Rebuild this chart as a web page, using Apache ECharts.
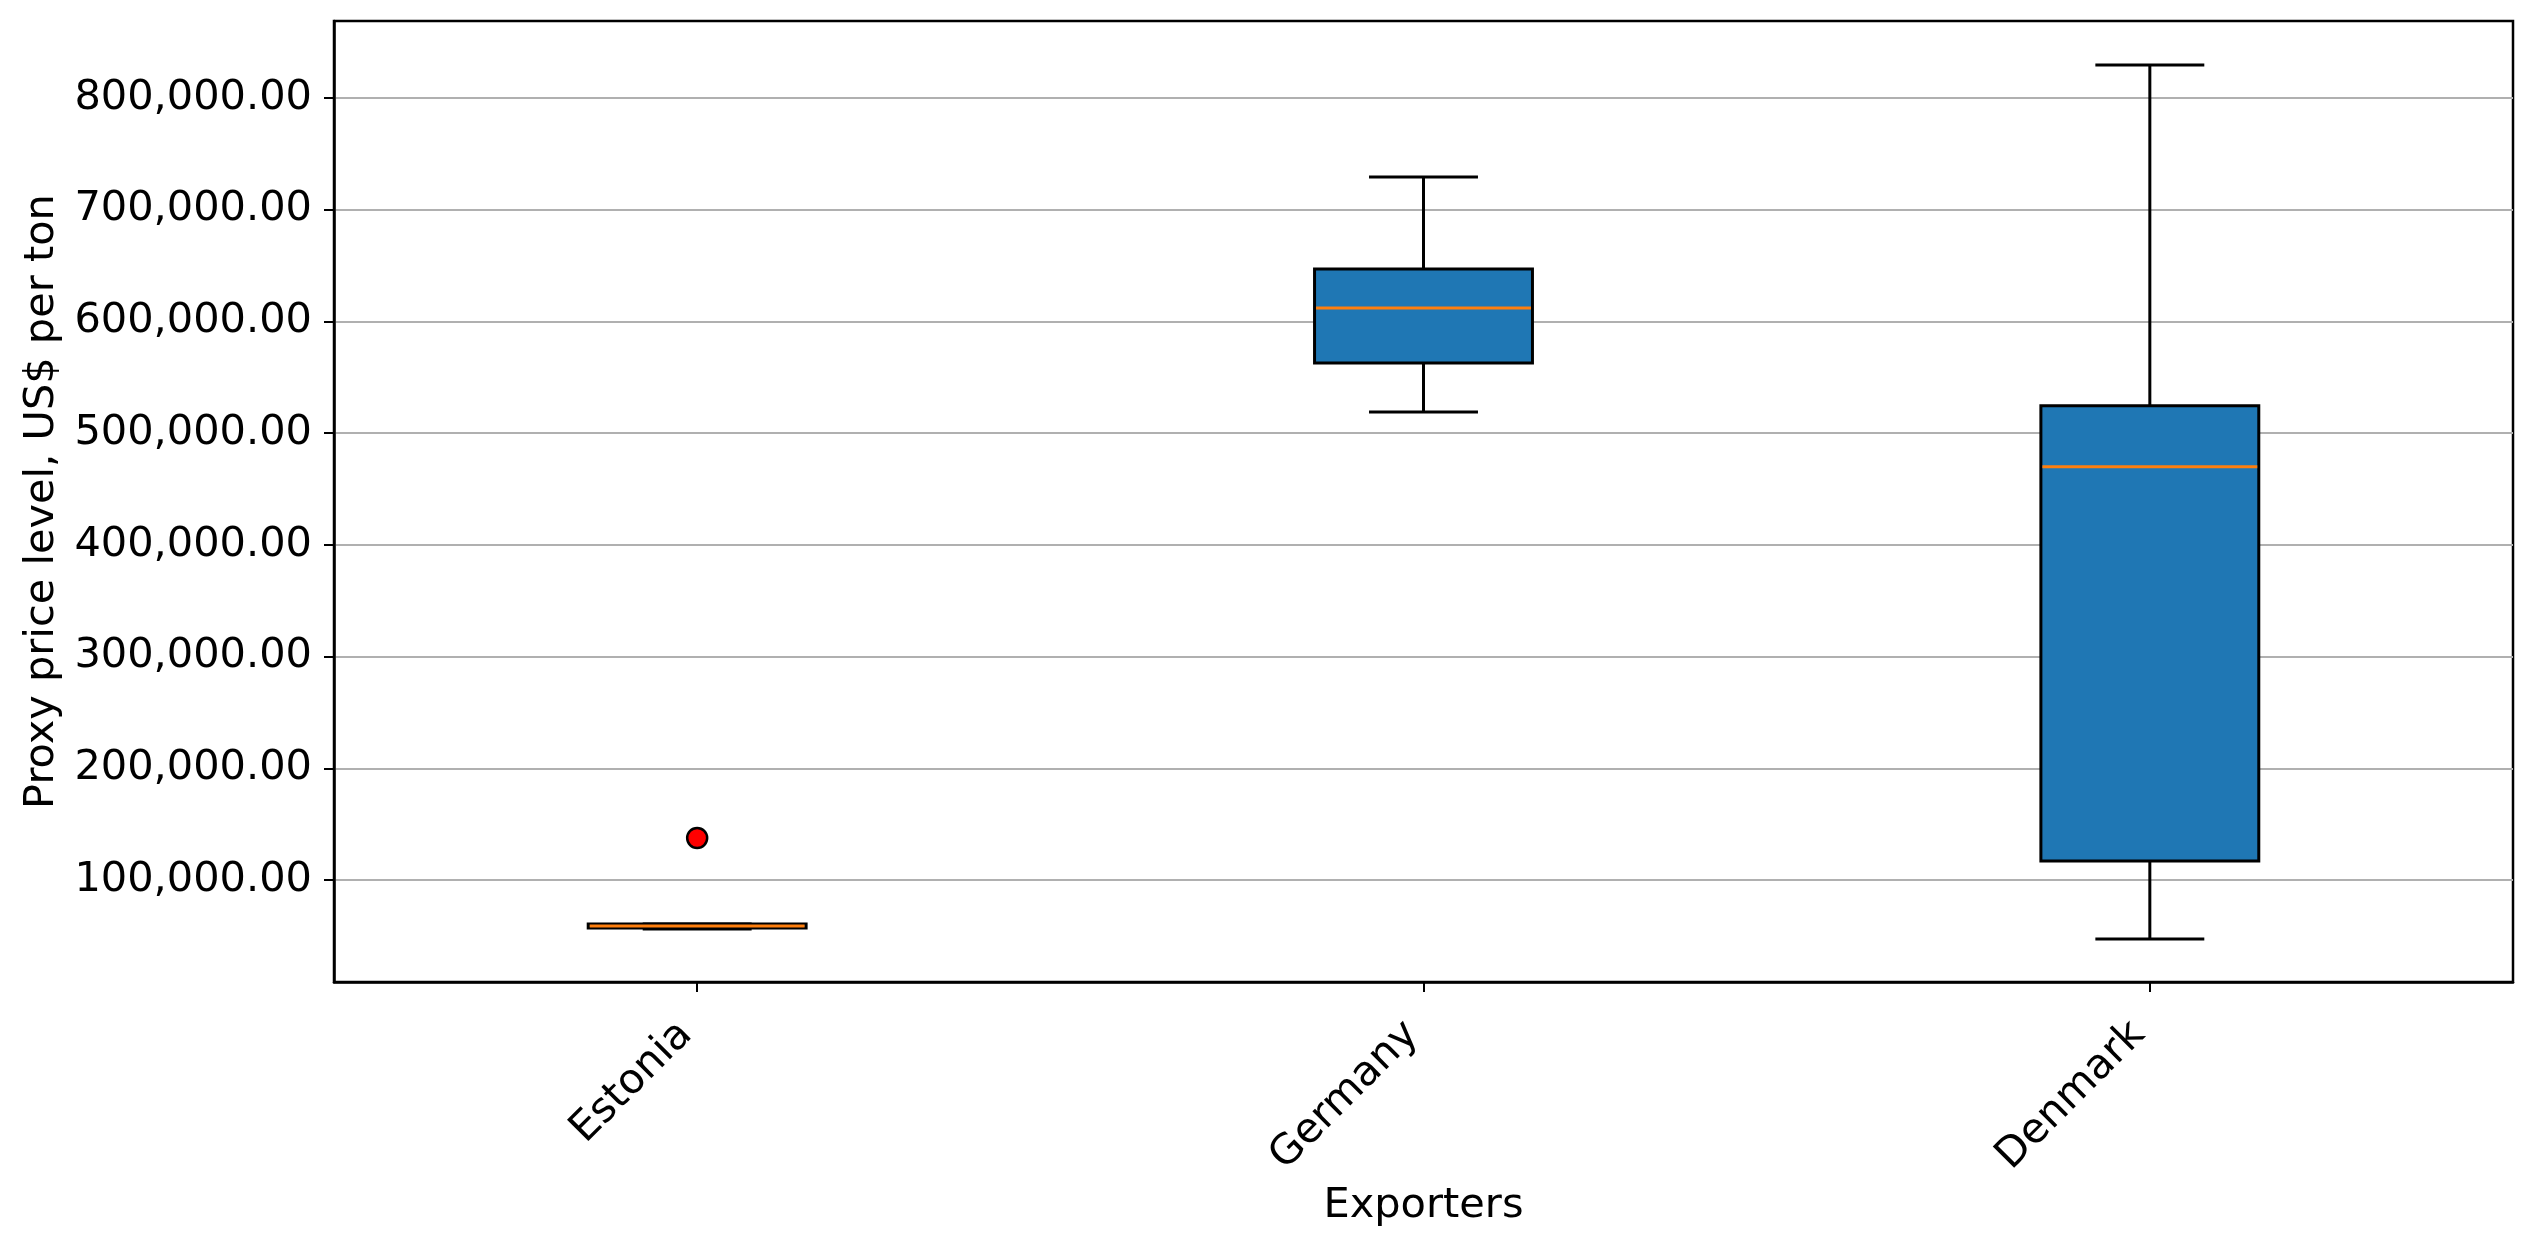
<!DOCTYPE html>
<html>
<head>
<meta charset="utf-8">
<script src="https://cdn.jsdelivr.net/npm/echarts@6/dist/echarts.min.js"></script>
<style>
  html, body { margin: 0; padding: 0; background: #fff; }
  #chart { width: 2534px; height: 1244px; }
</style>
</head>
<body>
<div id="chart"></div>
<script>
// box plot values
var categories = ['Estonia', 'Germany', 'Denmark'];
var lowWhisker = [56100, 518900, 47200];
var q1 = [57000, 562800, 117000];
var medians = [58800, 612000, 469800];
var q3 = [60600, 646900, 524400];
var highWhisker = [60600, 729300, 829500];
var outliers = [[0, 137600]];
var yTicks = [100000, 200000, 300000, 400000, 500000, 600000, 700000, 800000];

var boxData = categories.map(function (c, i) {
	return [i, lowWhisker[i], q1[i], medians[i], q3[i], highWhisker[i]];
});

var FONT = 'DejaVu Sans';
var FS = 41.5;

function fmt(v) {
	return v.toLocaleString('en-US', { minimumFractionDigits: 2, maximumFractionDigits: 2 });
}

function renderBox(params, api) {
	var idx = api.value(0);
	var pLow = api.coord([idx, api.value(1)]);
	var pQ1 = api.coord([idx, api.value(2)]);
	var pMed = api.coord([idx, api.value(3)]);
	var pQ3 = api.coord([idx, api.value(4)]);
	var pHigh = api.coord([idx, api.value(5)]);
	var bandW = api.size([1, 0])[0];
	var halfBox = bandW * 0.15;
	var halfCap = halfBox / 2;
	var x = pMed[0];
	var black = { stroke: '#000', lineWidth: 3 };
	return {
		type: 'group',
		children: [
			// whiskers
			{ type: 'line', shape: { x1: x, y1: pQ3[1], x2: x, y2: pHigh[1] }, style: black },
			{ type: 'line', shape: { x1: x, y1: pQ1[1], x2: x, y2: pLow[1] }, style: black },
			{ type: 'line', shape: { x1: x - halfCap, y1: pHigh[1], x2: x + halfCap, y2: pHigh[1] }, style: black },
			{ type: 'line', shape: { x1: x - halfCap, y1: pLow[1], x2: x + halfCap, y2: pLow[1] }, style: black },
			// box
			{
				type: 'rect',
				shape: { x: x - halfBox, y: pQ3[1], width: halfBox * 2, height: pQ1[1] - pQ3[1] },
				style: { fill: '#1f77b4', stroke: '#000', lineWidth: 3 }
			},
			// median
			{
				type: 'line',
				shape: { x1: x - halfBox + 1.5, y1: pMed[1], x2: x + halfBox - 1.5, y2: pMed[1] },
				style: { stroke: '#ff7f0e', lineWidth: 3 }
			}
		]
	};
}

var myChart = echarts.init(document.getElementById('chart'));
myChart.setOption({
	animation: false,
	backgroundColor: '#fff',
	grid: {
		left: 334, right: 21, top: 21, bottom: 262,
		show: true, borderColor: '#000', borderWidth: 2.5
	},
	xAxis: {
		type: 'category',
		data: categories,
		boundaryGap: true,
		name: 'Exporters',
		nameLocation: 'middle',
		nameGap: 200,
		nameTextStyle: { fontFamily: FONT, fontSize: FS, color: '#000' },
		axisLine: { lineStyle: { color: '#000', width: 2.5 } },
		axisTick: { show: true, alignWithLabel: true, interval: 0, length: 10, lineStyle: { color: '#000', width: 2 } },
		axisLabel: {
			interval: 0, rotate: 45, margin: 35,
			padding: [0, 16, 0, 0],
			fontFamily: FONT, fontSize: FS, color: '#000'
		},
		splitLine: { show: false }
	},
	yAxis: {
		type: 'value',
		min: 8700,
		max: 868900,
		splitNumber: 9,
		name: 'Proxy price level, US$ per ton',
		nameLocation: 'middle',
		nameGap: 266,
		nameTextStyle: { fontFamily: FONT, fontSize: FS, color: '#000' },
		axisLine: { show: true, lineStyle: { color: '#000', width: 2.5 } },
		axisTick: { show: true, length: 10, customValues: yTicks, lineStyle: { color: '#000', width: 2 } },
		axisLabel: {
			customValues: yTicks,
			margin: 22,
			fontFamily: FONT, fontSize: FS, color: '#000',
			formatter: function (v) { return fmt(v); }
		},
		splitLine: { show: true, lineStyle: { color: '#b0b0b0', width: 2 } }
	},
	series: [
		{
			type: 'custom',
			renderItem: renderBox,
			data: boxData,
			encode: { x: 0, y: [1, 2, 3, 4, 5] },
			z: 3
		},
		{
			type: 'scatter',
			data: outliers,
			symbol: 'circle',
			symbolSize: 20,
			itemStyle: { color: '#ff0000', borderColor: '#000', borderWidth: 2.5, opacity: 1 },
			z: 4
		}
	]
});
</script>
</body>
</html>
